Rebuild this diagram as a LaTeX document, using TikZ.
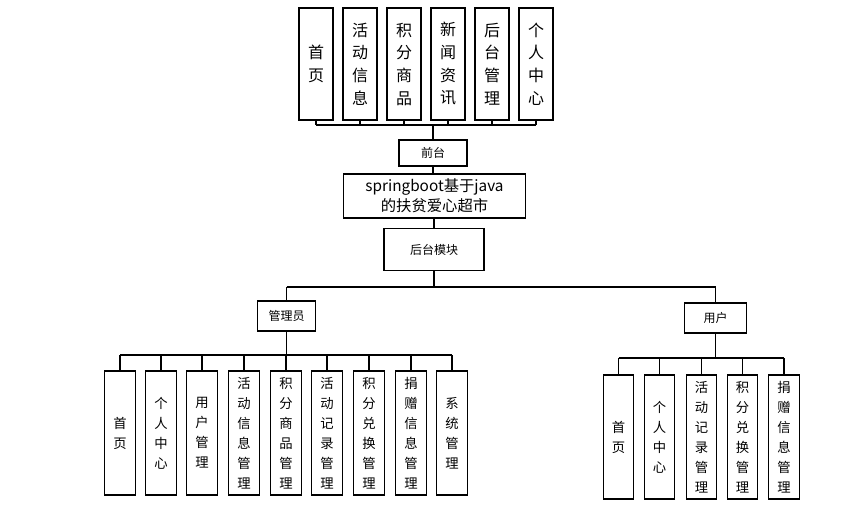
\documentclass[tikz,border=0pt]{standalone}
\usepackage{fontspec}
\setmainfont{Liberation Serif}
\newfontfamily\cjk{Noto Sans CJK SC}
\begin{document}
\begin{tikzpicture}[x=0.75pt,y=-0.75pt,
  top/.style={draw,thick,minimum width=25.5pt,minimum height=84pt,align=center,font=\cjk\fontsize{12}{17}\selectfont,inner sep=0pt},
  bot/.style={draw,thick,minimum width=23pt,minimum height=93pt,align=center,font=\cjk\fontsize{10}{15}\selectfont,inner sep=0pt},
  mid/.style={draw,thick,align=center,inner sep=0pt,font=\cjk\fontsize{9}{12}\selectfont},
  ln/.style={draw,thick}]
\useasboundingbox (0,0) rectangle (856,510);
\foreach \x/\t [count=\i] in {316/首\\页,360/活\\动\\信\\息,404/积\\分\\商\\品,448/新\\闻\\资\\讯,492/后\\台\\管\\理,536/个\\人\\中\\心}
  \node[top] (t\i) at (\x,64) {\t};
\node[mid,minimum width=51pt,minimum height=19.5pt] (qt) at (433,153) {前台};
\node[mid,minimum width=137pt,minimum height=33pt,font=\cjk\fontsize{11.5}{15}\selectfont] (sb) at (434.5,196) {springboot基于java\\的扶贫爱心超市};
\node[mid,minimum width=75pt,minimum height=31pt] (ht) at (434,249.5) {后台模块};
\node[mid,minimum width=44pt,minimum height=22.5pt] (gl) at (286.5,316) {管理员};
\node[mid,minimum width=47pt,minimum height=22.5pt] (yh) at (715.5,318) {用户};
\foreach \x/\t [count=\i] in {120/首\\页,161/个\\人\\中\\心,202/用\\户\\管\\理,244/活\\动\\信\\息\\管\\理,286/积\\分\\商\\品\\管\\理,327/活\\动\\记\\录\\管\\理,369/积\\分\\兑\\换\\管\\理,411/捐\\赠\\信\\息\\管\\理,452/系\\统\\管\\理}
  \node[bot] (a\i) at (\x,433) {\t};
\foreach \x/\t [count=\i] in {618.5/首\\页,659.5/个\\人\\中\\心,701.5/活\\动\\记\\录\\管\\理,742.5/积\\分\\兑\\换\\管\\理,784/捐\\赠\\信\\息\\管\\理}
  \node[bot] (u\i) at (\x,437) {\t};
% top bus
\coordinate (tb) at (433,125);
\foreach \i in {1,...,6} \draw[ln] (t\i.south) -- (t\i.south |- tb);
\draw[ln] (t1.south |- tb) -- (t6.south |- tb);
\draw[ln] (tb) -- (qt.north);
\draw[ln] (qt.south) -- (qt.south |- sb.north);
\draw[ln] (ht.north) -- (ht.north |- sb.south);
\coordinate (mb) at (434,287);
\draw[ln] (ht.south) -- (mb);
\draw[ln] (gl.north |- mb) -- (yh.north |- mb);
\draw[ln] (gl.north |- mb) -- (gl.north);
\draw[ln] (yh.north |- mb) -- (yh.north);
\coordinate (ab) at (0,355);
\draw[ln] (gl.south) -- (gl.south |- ab);
\draw[ln] (a1.north |- ab) -- (a9.north |- ab);
\foreach \i in {1,...,9} \draw[ln] (a\i.north |- ab) -- (a\i.north);
\coordinate (ub) at (0,358);
\draw[ln] (yh.south) -- (yh.south |- ub);
\draw[ln] (u1.north |- ub) -- (u5.north |- ub);
\foreach \i in {1,...,5} \draw[ln] (u\i.north |- ub) -- (u\i.north);
\end{tikzpicture}
\end{document}
